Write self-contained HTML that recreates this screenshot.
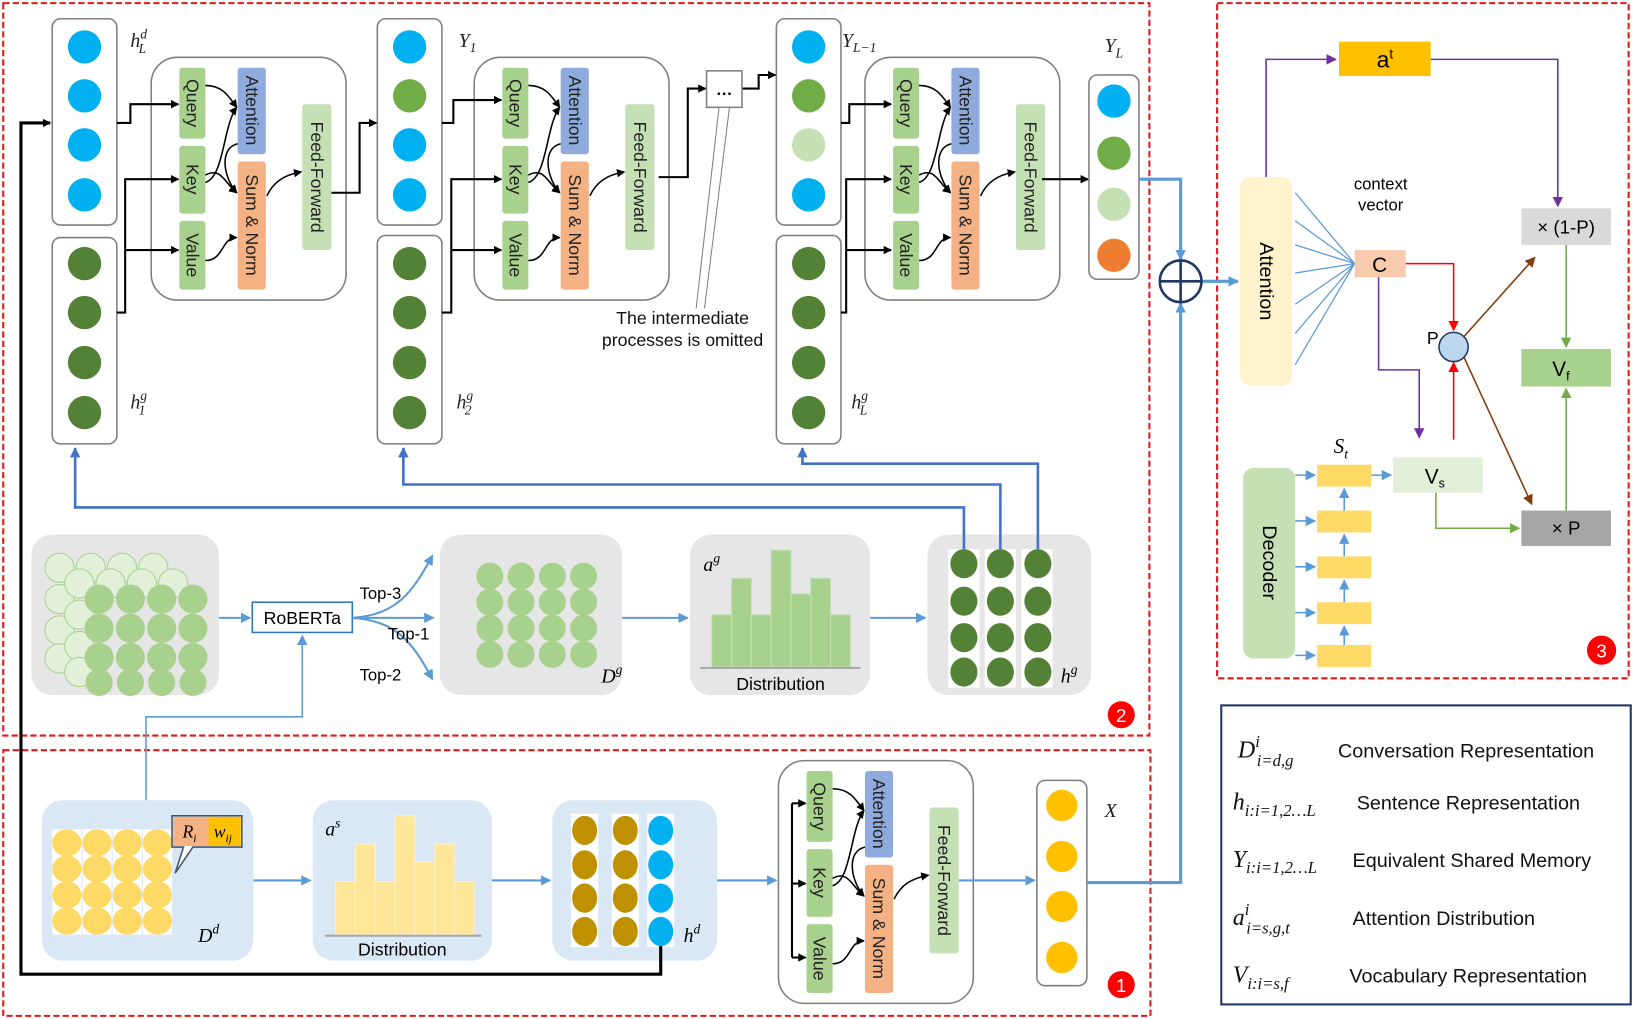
<!DOCTYPE html>
<html><head><meta charset="utf-8"><style>
body{margin:0;background:#fff}
svg{display:block}
text{font-family:"Liberation Sans",sans-serif}
.m{font-family:"Liberation Serif",serif;font-style:italic}
.rt{font-size:17px;fill:#222}
</style></head><body>
<svg width="1634" height="1019" viewBox="0 0 1568 978" xmlns="http://www.w3.org/2000/svg">
<defs>
<marker id="ak" markerWidth="8" markerHeight="8" refX="7" refY="4" orient="auto" markerUnits="userSpaceOnUse"><path d="M0,0L8,4L0,8z" fill="#000"/></marker>
<marker id="ab" markerWidth="10" markerHeight="10" refX="9" refY="5" orient="auto" markerUnits="userSpaceOnUse"><path d="M0,0L10,5L0,10z" fill="#5b9bd5"/></marker>
<marker id="ap" markerWidth="10" markerHeight="10" refX="9" refY="5" orient="auto" markerUnits="userSpaceOnUse"><path d="M0,0L10,5L0,10z" fill="#7030a0"/></marker>
<marker id="ar" markerWidth="10" markerHeight="10" refX="9" refY="5" orient="auto" markerUnits="userSpaceOnUse"><path d="M0,0L10,5L0,10z" fill="#ff0000"/></marker>
<marker id="ag" markerWidth="10" markerHeight="10" refX="9" refY="5" orient="auto" markerUnits="userSpaceOnUse"><path d="M0,0L10,5L0,10z" fill="#70ad47"/></marker>
<marker id="an" markerWidth="10" markerHeight="10" refX="9" refY="5" orient="auto" markerUnits="userSpaceOnUse"><path d="M0,0L10,5L0,10z" fill="#843c0c"/></marker>
<marker id="ad" markerWidth="10" markerHeight="10" refX="9" refY="5" orient="auto" markerUnits="userSpaceOnUse"><path d="M0,0L10,5L0,10z" fill="#4472c4"/></marker>
</defs>

<g fill="none" stroke="#e31a1c" stroke-width="2" stroke-dasharray="6,3">
<rect x="3" y="3" width="1100" height="703"/>
<rect x="3" y="720" width="1101" height="255"/>
<rect x="1168" y="3" width="395" height="648"/>
</g>
<rect x="1172" y="677" width="393" height="287" fill="none" stroke="#203864" stroke-width="2"/>

<g fill="#fff" stroke="#7f7f7f" stroke-width="1.5">
<rect x="50" y="18" width="62" height="198" rx="8"/>
<rect x="50" y="228" width="62" height="198" rx="8"/>
<rect x="362" y="18" width="62" height="198" rx="8"/>
<rect x="362" y="226" width="62" height="200" rx="8"/>
<rect x="745" y="18" width="62" height="198" rx="8"/>
<rect x="745" y="226" width="62" height="200" rx="8"/>
<rect x="1045" y="72" width="48" height="196" rx="8"/>
<rect x="995" y="749" width="48" height="197" rx="8"/>
</g>
<g>
<circle cx="81" cy="45" r="16" fill="#00b0f0"/><circle cx="81" cy="92" r="16" fill="#00b0f0"/><circle cx="81" cy="139" r="16" fill="#00b0f0"/><circle cx="81" cy="187" r="16" fill="#00b0f0"/>
<circle cx="81" cy="253" r="16" fill="#538135"/><circle cx="81" cy="300" r="16" fill="#538135"/><circle cx="81" cy="348" r="16" fill="#538135"/><circle cx="81" cy="396" r="16" fill="#538135"/>
<circle cx="393" cy="45" r="16" fill="#00b0f0"/><circle cx="393" cy="92" r="16" fill="#70ad47"/><circle cx="393" cy="139" r="16" fill="#00b0f0"/><circle cx="393" cy="187" r="16" fill="#00b0f0"/>
<circle cx="393" cy="253" r="16" fill="#538135"/><circle cx="393" cy="300" r="16" fill="#538135"/><circle cx="393" cy="348" r="16" fill="#538135"/><circle cx="393" cy="396" r="16" fill="#538135"/>
<circle cx="776" cy="45" r="16" fill="#00b0f0"/><circle cx="776" cy="92" r="16" fill="#70ad47"/><circle cx="776" cy="139" r="16" fill="#c5e0b4"/><circle cx="776" cy="187" r="16" fill="#00b0f0"/>
<circle cx="776" cy="253" r="16" fill="#538135"/><circle cx="776" cy="300" r="16" fill="#538135"/><circle cx="776" cy="348" r="16" fill="#538135"/><circle cx="776" cy="396" r="16" fill="#538135"/>
<circle cx="1069" cy="97" r="16" fill="#00b0f0"/><circle cx="1069" cy="147" r="16" fill="#70ad47"/><circle cx="1069" cy="196" r="16" fill="#c5e0b4"/><circle cx="1069" cy="245" r="16" fill="#ed7d31"/>
<circle cx="1019" cy="773" r="15" fill="#ffc000"/><circle cx="1019" cy="822" r="15" fill="#ffc000"/><circle cx="1019" cy="870" r="15" fill="#ffc000"/><circle cx="1019" cy="919" r="15" fill="#ffc000"/>
</g>
<g font-size="19" fill="#222">
<text x="125" y="45" class="m">h<tspan font-size="13" dy="-8">d</tspan><tspan font-size="13" dx="-8" dy="14">L</tspan></text>
<text x="125" y="392" class="m">h<tspan font-size="13" dy="-8">g</tspan><tspan font-size="13" dx="-8" dy="14">1</tspan></text>
<text x="440" y="45" class="m">Y<tspan font-size="13" dy="5">1</tspan></text>
<text x="438" y="392" class="m">h<tspan font-size="13" dy="-8">g</tspan><tspan font-size="13" dx="-8" dy="14">2</tspan></text>
<text x="808" y="45" class="m">Y<tspan font-size="13" dy="5">L−1</tspan></text>
<text x="817" y="392" class="m">h<tspan font-size="13" dy="-8">g</tspan><tspan font-size="13" dx="-8" dy="14">L</tspan></text>
<text x="1060" y="50" class="m">Y<tspan font-size="13" dy="5">L</tspan></text>
<text x="1060" y="784" class="m">X</text>
</g>

<g id="tb">
<rect x="145" y="55" width="187" height="233" rx="25" fill="#fff" stroke="#7f7f7f" stroke-width="1.5"/>
<rect x="172" y="65" width="25" height="68" rx="3" fill="#a9d18e"/>
<rect x="172" y="140" width="25" height="65" rx="3" fill="#a9d18e"/>
<rect x="172" y="212" width="25" height="66" rx="3" fill="#a9d18e"/>
<rect x="228" y="65" width="27" height="83" rx="3" fill="#8faadc"/>
<rect x="228" y="155" width="27" height="123" rx="3" fill="#f4b183"/>
<rect x="290" y="100" width="28" height="140" rx="3" fill="#c5e0b4"/>
<text class="rt" transform="translate(184.5,99) rotate(90)" text-anchor="middle" dominant-baseline="central">Query</text>
<text class="rt" transform="translate(184.5,172) rotate(90)" text-anchor="middle" dominant-baseline="central">Key</text>
<text class="rt" transform="translate(184.5,245) rotate(90)" text-anchor="middle" dominant-baseline="central">Value</text>
<text class="rt" transform="translate(241.5,106) rotate(90)" text-anchor="middle" dominant-baseline="central">Attention</text>
<text class="rt" transform="translate(241.5,216) rotate(90)" text-anchor="middle" dominant-baseline="central">Sum &amp; Norm</text>
<text class="rt" transform="translate(304,170) rotate(90)" text-anchor="middle" dominant-baseline="central">Feed-Forward</text>
<g fill="none" stroke="#000" stroke-width="1.5" marker-end="url(#ak)">
<path d="M197,82 C212,82 218,90 227,103"/>
<path d="M197,175 C215,170 214,120 227,103"/>
<path d="M197,168 C212,160 215,175 227,185"/>
<path d="M228,138 C210,142 214,170 227,185"/>
<path d="M197,250 C215,250 212,228 227,228"/>
<path d="M256,188 C262,175 272,168 289,165"/>
</g>
</g>
<use href="#tb" transform="translate(310,0)"/>
<use href="#tb" transform="translate(685,0)"/>
<use href="#tb" transform="translate(602,675)"/>

<g fill="none" stroke="#000" stroke-width="2" marker-end="url(#ak)">
<path d="M112,118 H125 V100 H171"/>
<path d="M112,300 H120 V172 H171"/>
<path d="M120,240 H171"/>
<path d="M318,185 H345 V118 H361"/>
<path d="M424,118 H435 V96 H481"/>
<path d="M424,300 H433 V172 H481"/>
<path d="M433,240 H481"/>
<path d="M632,170 H660 V85 H677"/>
<path d="M712,85 H728 V72 H744"/>
<path d="M807,118 H815 V100 H855"/>
<path d="M807,300 H812 V172 H855"/>
<path d="M812,240 H855"/>
<path d="M1000,172 H1044"/>
<path d="M760,771 H773"/><path d="M760,848 H773"/><path d="M760,919 H773"/>
</g>
<path d="M760,771 V919" stroke="#000" stroke-width="2"/>
<rect x="678" y="68" width="34" height="35" fill="#fff" stroke="#7f7f7f" stroke-width="1.5"/>
<text x="695" y="91" text-anchor="middle" font-size="16" font-weight="bold">…</text>
<path d="M668,296 L690,103 L700,103 L676,296" fill="#fff" stroke="#7f7f7f" stroke-width="1"/>
<text x="655" y="311" text-anchor="middle" font-size="17" fill="#111">The intermediate</text>
<text x="655" y="332" text-anchor="middle" font-size="17" fill="#111">processes is omitted</text>

<rect x="30" y="513" width="180" height="154" rx="20" fill="#e7e6e6"/>
<g fill="#e2f0d9" stroke="#a9d18e" stroke-width="1">
<circle cx="57" cy="545" r="14"/><circle cx="87" cy="545" r="14"/><circle cx="117" cy="545" r="14"/><circle cx="147" cy="545" r="14"/>
<circle cx="57" cy="575" r="14"/><circle cx="57" cy="605" r="14"/><circle cx="57" cy="632" r="14"/>
<circle cx="76" cy="560" r="14"/><circle cx="106" cy="560" r="14"/><circle cx="136" cy="560" r="14"/><circle cx="166" cy="560" r="14"/>
<circle cx="76" cy="590" r="14"/><circle cx="76" cy="620" r="14"/><circle cx="76" cy="645" r="14"/>
</g>
<g fill="#a9d18e">
<circle cx="95" cy="575" r="14"/><circle cx="125" cy="575" r="14"/><circle cx="155" cy="575" r="14"/><circle cx="185" cy="575" r="14"/>
<circle cx="95" cy="603" r="14"/><circle cx="125" cy="603" r="14"/><circle cx="155" cy="603" r="14"/><circle cx="185" cy="603" r="14"/>
<circle cx="95" cy="631" r="14"/><circle cx="125" cy="631" r="14"/><circle cx="155" cy="631" r="14"/><circle cx="185" cy="631" r="14"/>
<circle cx="95" cy="655" r="13"/><circle cx="125" cy="655" r="13"/><circle cx="155" cy="655" r="13"/><circle cx="185" cy="655" r="13"/>
</g>
<rect x="242" y="578" width="96" height="29" fill="#fff" stroke="#2e75b6" stroke-width="1.5"/>
<text x="290" y="599" text-anchor="middle" font-size="17">RoBERTa</text>
<g fill="none" stroke="#5b9bd5" stroke-width="2" marker-end="url(#ab)">
<path d="M210,593 H240"/>
<path d="M338,593 C380,590 395,570 415,533"/>
<path d="M338,593 H416"/>
<path d="M338,593 C380,596 395,615 415,652"/>
<path d="M597,593 H660"/>
<path d="M835,593 H888"/>
<path d="M140,768 V688 H290 V610" stroke-width="1.5"/>
<path d="M243,845 H298"/>
<path d="M472,845 H528"/>
<path d="M688,845 H745"/>
<path d="M920,845 H993"/>
<path d="M1043,847 H1133 V291" stroke-width="3"/>
<path d="M1093,172 H1133 V249" stroke-width="3"/>
<path d="M1153,270 H1188" stroke-width="3"/>
</g>
<text x="345" y="575" font-size="16">Top-3</text>
<text x="372" y="614" font-size="16">Top-1</text>
<text x="345" y="653" font-size="16">Top-2</text>
<rect x="422" y="513" width="175" height="154" rx="20" fill="#e7e6e6"/>
<g fill="#a9d18e">
<circle cx="470" cy="553" r="13"/><circle cx="500" cy="553" r="13"/><circle cx="530" cy="553" r="13"/><circle cx="560" cy="553" r="13"/>
<circle cx="470" cy="578" r="13"/><circle cx="500" cy="578" r="13"/><circle cx="530" cy="578" r="13"/><circle cx="560" cy="578" r="13"/>
<circle cx="470" cy="603" r="13"/><circle cx="500" cy="603" r="13"/><circle cx="530" cy="603" r="13"/><circle cx="560" cy="603" r="13"/>
<circle cx="470" cy="628" r="13"/><circle cx="500" cy="628" r="13"/><circle cx="530" cy="628" r="13"/><circle cx="560" cy="628" r="13"/>
</g>
<text x="577" y="655" class="m" font-size="19">D<tspan font-size="13" dy="-8">g</tspan></text>
<rect x="662" y="513" width="173" height="154" rx="20" fill="#e7e6e6"/>
<g fill="#a9d18e" stroke="#c5e0b4">
<rect x="683" y="590" width="19" height="50"/><rect x="702" y="555" width="19" height="85"/><rect x="721" y="590" width="19" height="50"/><rect x="740" y="528" width="19" height="112"/><rect x="759" y="570" width="19" height="70"/><rect x="778" y="555" width="19" height="85"/><rect x="797" y="590" width="19" height="50"/>
</g>
<line x1="672" y1="641" x2="826" y2="641" stroke="#a6a6a6" stroke-width="2"/>
<text x="749" y="662" text-anchor="middle" font-size="17">Distribution</text>
<text x="675" y="548" class="m" font-size="19">a<tspan font-size="13" dy="-8">g</tspan></text>
<rect x="890" y="513" width="157" height="154" rx="20" fill="#e7e6e6"/>
<g fill="#fff"><rect x="910" y="527" width="30" height="133"/><rect x="945" y="527" width="30" height="133"/><rect x="980" y="527" width="30" height="133"/></g>
<g fill="#538135">
<ellipse cx="925" cy="541" rx="13" ry="14"/><ellipse cx="960" cy="541" rx="13" ry="14"/><ellipse cx="996" cy="541" rx="13" ry="14"/>
<ellipse cx="925" cy="577" rx="13" ry="14"/><ellipse cx="960" cy="577" rx="13" ry="14"/><ellipse cx="996" cy="577" rx="13" ry="14"/>
<ellipse cx="925" cy="612" rx="13" ry="14"/><ellipse cx="960" cy="612" rx="13" ry="14"/><ellipse cx="996" cy="612" rx="13" ry="14"/>
<ellipse cx="925" cy="645" rx="13" ry="14"/><ellipse cx="960" cy="645" rx="13" ry="14"/><ellipse cx="996" cy="645" rx="13" ry="14"/>
</g>
<text x="1018" y="655" class="m" font-size="19">h<tspan font-size="13" dy="-8">g</tspan></text>
<g fill="none" stroke="#4472c4" stroke-width="2.5" marker-end="url(#ad)">
<path d="M925,527 V487 H72 V430"/>
<path d="M960,527 V465 H387 V430"/>
<path d="M996,527 V445 H770 V430"/>
</g>
<circle cx="1076" cy="686" r="13" fill="#ff0000"/><text x="1076" y="693" text-anchor="middle" fill="#fff" font-size="18">2</text>

<rect x="40" y="768" width="203" height="154" rx="20" fill="#dae8f5"/>
<g fill="#fff"><rect x="50" y="796" width="28" height="101"/><rect x="79" y="796" width="28" height="101"/><rect x="108" y="796" width="28" height="101"/><rect x="137" y="796" width="28" height="101"/></g>
<g fill="#ffd966">
<ellipse cx="64" cy="809" rx="14" ry="13"/><ellipse cx="93" cy="809" rx="14" ry="13"/><ellipse cx="122" cy="809" rx="14" ry="13"/><ellipse cx="151" cy="809" rx="14" ry="13"/>
<ellipse cx="64" cy="834" rx="14" ry="13"/><ellipse cx="93" cy="834" rx="14" ry="13"/><ellipse cx="122" cy="834" rx="14" ry="13"/><ellipse cx="151" cy="834" rx="14" ry="13"/>
<ellipse cx="64" cy="859" rx="14" ry="13"/><ellipse cx="93" cy="859" rx="14" ry="13"/><ellipse cx="122" cy="859" rx="14" ry="13"/><ellipse cx="151" cy="859" rx="14" ry="13"/>
<ellipse cx="64" cy="884" rx="14" ry="13"/><ellipse cx="93" cy="884" rx="14" ry="13"/><ellipse cx="122" cy="884" rx="14" ry="13"/><ellipse cx="151" cy="884" rx="14" ry="13"/>
</g>
<path d="M165,783 H232 V813 H185 L168,838 L176,813 H165 Z" fill="#fff" stroke="#44546a" stroke-width="1.5"/>
<rect x="166" y="784" width="34" height="28" fill="#f4b183"/><rect x="200" y="784" width="31" height="28" fill="#ffc000"/>
<text x="175" y="804" class="m" font-size="17">R<tspan font-size="11" dy="4">i</tspan></text>
<text x="205" y="804" class="m" font-size="17">w<tspan font-size="11" dy="4">ij</tspan></text>
<text x="190" y="904" class="m" font-size="19">D<tspan font-size="13" dy="-8">d</tspan></text>
<rect x="300" y="768" width="172" height="154" rx="20" fill="#dae8f5"/>
<g fill="#ffe699" stroke="#fff2cc">
<rect x="322" y="846" width="19" height="51"/><rect x="341" y="810" width="19" height="87"/><rect x="360" y="846" width="19" height="51"/><rect x="379" y="783" width="19" height="114"/><rect x="398" y="827" width="19" height="70"/><rect x="417" y="810" width="19" height="87"/><rect x="436" y="846" width="19" height="51"/>
</g>
<line x1="312" y1="898" x2="462" y2="898" stroke="#a6a6a6" stroke-width="2"/>
<text x="386" y="917" text-anchor="middle" font-size="17">Distribution</text>
<text x="312" y="802" class="m" font-size="19">a<tspan font-size="13" dy="-8">s</tspan></text>
<rect x="530" y="768" width="158" height="154" rx="20" fill="#dae8f5"/>
<g fill="#fff"><rect x="548" y="781" width="26" height="128"/><rect x="587" y="781" width="26" height="128"/><rect x="621" y="781" width="26" height="128"/></g>
<g fill="#bf9000">
<ellipse cx="561" cy="797" rx="12" ry="14"/><ellipse cx="561" cy="830" rx="12" ry="14"/><ellipse cx="561" cy="862" rx="12" ry="14"/><ellipse cx="561" cy="894" rx="12" ry="14"/>
<ellipse cx="600" cy="797" rx="12" ry="14"/><ellipse cx="600" cy="830" rx="12" ry="14"/><ellipse cx="600" cy="862" rx="12" ry="14"/><ellipse cx="600" cy="894" rx="12" ry="14"/>
</g>
<g fill="#00b0f0">
<ellipse cx="634" cy="797" rx="12" ry="14"/><ellipse cx="634" cy="830" rx="12" ry="14"/><ellipse cx="634" cy="862" rx="12" ry="14"/><ellipse cx="634" cy="894" rx="12" ry="14"/>
</g>
<text x="656" y="904" class="m" font-size="19">h<tspan font-size="13" dy="-8">d</tspan></text>
<path d="M634,908 V935 H20 V118 H48" fill="none" stroke="#000" stroke-width="3" marker-end="url(#ak)"/>
<circle cx="1076" cy="945" r="13" fill="#ff0000"/><text x="1076" y="952" text-anchor="middle" fill="#fff" font-size="18">1</text>

<circle cx="1133" cy="270" r="20" fill="none" stroke="#1f3864" stroke-width="2.5"/>
<path d="M1113,270 H1153 M1133,250 V290" stroke="#1f3864" stroke-width="2.5"/>

<rect x="1190" y="170" width="50" height="200" rx="10" fill="#fff2cc"/>
<text transform="translate(1215,270) rotate(90)" text-anchor="middle" dominant-baseline="central" font-size="19">Attention</text>
<rect x="1285" y="40" width="88" height="33" fill="#ffc000"/>
<text x="1329" y="65" text-anchor="middle" font-size="22">a<tspan font-size="13" dy="-9">t</tspan></text>
<g fill="none" stroke="#7030a0" stroke-width="1.5">
<path d="M1215,170 V57 H1282" marker-end="url(#ap)"/>
<path d="M1373,57 H1495 V198" marker-end="url(#ap)"/>
<path d="M1323,265 V355 H1362 V420" marker-end="url(#ap)"/>
</g>
<g stroke="#5b9bd5" stroke-width="1.2">
<line x1="1243" y1="185" x2="1300" y2="253"/><line x1="1243" y1="212" x2="1300" y2="253"/><line x1="1243" y1="235" x2="1300" y2="253"/>
<line x1="1243" y1="262" x2="1300" y2="253"/><line x1="1243" y1="292" x2="1300" y2="253"/><line x1="1243" y1="320" x2="1300" y2="253"/><line x1="1243" y1="350" x2="1300" y2="253"/>
</g>
<text x="1325" y="182" text-anchor="middle" font-size="16">context</text>
<text x="1325" y="202" text-anchor="middle" font-size="16">vector</text>
<rect x="1300" y="240" width="49" height="26" fill="#f8cbad"/>
<text x="1324" y="261" text-anchor="middle" font-size="20">C</text>
<g fill="none" stroke="#ff0000" stroke-width="1.5">
<path d="M1349,253 H1395 V317" marker-end="url(#ar)"/>
<path d="M1395,422 V348" marker-end="url(#ar)"/>
</g>
<ellipse cx="1395" cy="333" rx="14" ry="14" fill="#bdd7ee" stroke="#1f3864" stroke-width="1.5"/>
<text x="1375" y="330" text-anchor="middle" font-size="17">P</text>
<g stroke="#843c0c" stroke-width="1.5" marker-end="url(#an)">
<line x1="1405" y1="323" x2="1473" y2="247"/>
<line x1="1405" y1="343" x2="1470" y2="484"/>
</g>
<rect x="1460" y="200" width="86" height="35" fill="#d9d9d9"/>
<text x="1503" y="224" text-anchor="middle" font-size="18">× (1-P)</text>
<rect x="1460" y="335" width="86" height="36" fill="#a9d18e"/>
<text x="1498" y="361" text-anchor="middle" font-size="20">V<tspan font-size="12" dy="4">f</tspan></text>
<rect x="1460" y="490" width="86" height="34" fill="#a6a6a6"/>
<text x="1503" y="513" text-anchor="middle" font-size="18">× P</text>
<rect x="1337" y="439" width="86" height="34" fill="#e2f0d9"/>
<text x="1377" y="464" text-anchor="middle" font-size="20">V<tspan font-size="12" dy="4">s</tspan></text>
<g fill="none" stroke="#70ad47" stroke-width="1.5" marker-end="url(#ag)">
<path d="M1503,235 V333"/>
<path d="M1503,490 V373"/>
<path d="M1378,473 V507 H1458"/>
</g>
<rect x="1193" y="449" width="50" height="183" rx="10" fill="#c5e0b4"/>
<text transform="translate(1218,540) rotate(90)" text-anchor="middle" dominant-baseline="central" font-size="19">Decoder</text>
<g fill="#ffd966">
<rect x="1264" y="446" width="52" height="21"/><rect x="1264" y="490" width="52" height="21"/><rect x="1264" y="534" width="52" height="21"/><rect x="1264" y="578" width="52" height="21"/><rect x="1264" y="619" width="52" height="21"/>
</g>
<g fill="none" stroke="#5b9bd5" stroke-width="1.5" marker-end="url(#ab)">
<path d="M1243,456 H1262"/><path d="M1243,500 H1262"/><path d="M1243,544 H1262"/><path d="M1243,588 H1262"/><path d="M1243,629 H1262"/>
<path d="M1290,490 V469"/><path d="M1290,534 V513"/><path d="M1290,578 V557"/><path d="M1290,619 V601"/>
<path d="M1316,456 H1335"/>
</g>
<text x="1280" y="435" class="m" font-size="20">S<tspan font-size="13" dy="5">t</tspan></text>
<circle cx="1537" cy="624" r="14" fill="#ff0000"/><text x="1537" y="631" text-anchor="middle" fill="#fff" font-size="18">3</text>

<g font-size="19" fill="#111">
<text x="1188" y="727" class="m" font-size="23">D<tspan font-size="16" dy="-10">i</tspan><tspan font-size="16" dx="-3" dy="18">i=d,g</tspan></text>
<text x="1284" y="727">Conversation Representation</text>
<text x="1183" y="777" class="m" font-size="23">h<tspan font-size="16" dy="6">i:i=1,2…L</tspan></text>
<text x="1302" y="777">Sentence Representation</text>
<text x="1183" y="832" class="m" font-size="23">Y<tspan font-size="16" dy="6">i:i=1,2…L</tspan></text>
<text x="1298" y="832">Equivalent Shared Memory</text>
<text x="1183" y="888" class="m" font-size="23">a<tspan font-size="16" dy="-10">i</tspan><tspan font-size="16" dx="-3" dy="18">i=s,g,t</tspan></text>
<text x="1298" y="888">Attention Distribution</text>
<text x="1183" y="943" class="m" font-size="23">V<tspan font-size="16" dy="6">i:i=s,f</tspan></text>
<text x="1295" y="943">Vocabulary Representation</text>
</g>
</svg>
</body></html>
